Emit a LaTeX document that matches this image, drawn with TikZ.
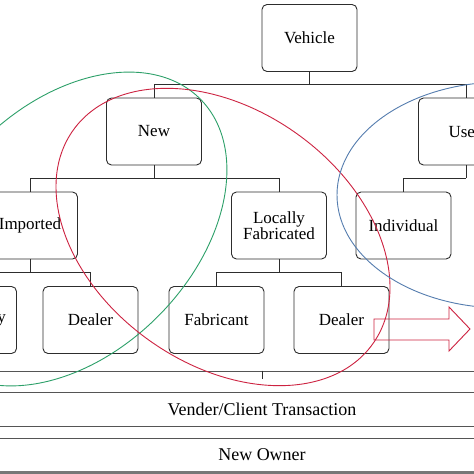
\documentclass[tikz,border=0pt]{standalone}
\usepackage{fontspec}
\setmainfont{Liberation Serif}
\definecolor{boxline}{RGB}{45,45,45}
\definecolor{bandline}{RGB}{85,85,85}
\definecolor{ovgreen}{RGB}{45,160,105}
\definecolor{ovred}{RGB}{205,35,65}
\definecolor{ovblue}{RGB}{85,125,175}
\tikzset{
  box/.style={draw=boxline, line width=0.9pt, rounded corners=5pt,
    minimum width=95pt, minimum height=67pt, inner sep=1pt, align=center,
    font=\fontsize{17}{19}\selectfont},
  band/.style={draw=bandline, line width=0.9pt, minimum width=560pt,
    inner sep=0pt, font=\fontsize{18}{20}\selectfont},
  conn/.style={draw=boxline, line width=0.9pt},
  oval/.style={line width=0.9pt}
}
\begin{document}
\begin{tikzpicture}[x=1pt,y=1pt]
\useasboundingbox (0,0) rectangle (474,474);
\clip (0,0) rectangle (474,474);
\fill[white] (0,0) rectangle (474,474);
% tree boxes
\node[box] (veh) at (309.5,436) {Vehicle};
\node[box] (new) at (154,342.5) {New};
\node[box] (used) at (466,342.5) {Used};
\node[box] (imp) at (30,248.5) {Imported};
\node[box] (lf) at (279,248.5) {Locally\\[-3pt]Fabricated};
\node[box] (ind) at (403.5,248.5) {Individual};
\node[box] (q) at (-31,154) {};
\node[anchor=east, inner sep=0pt, font=\fontsize{17}{19}\selectfont] (qt) at (q.center -| 6,0) {y};
\node[box] (d1) at (90.5,154) {Dealer};
\node[box] (fab) at (216.5,154) {Fabricant};
\node[box] (d2) at (341.5,154) {Dealer};
% connectors
\draw[conn] (veh.south) -- ++(0,-13) coordinate (b1);
\draw[conn] (new.north) |- (b1) -| (used.north);
\draw[conn] (new.south) -- ++(0,-13) coordinate (b2);
\draw[conn] (imp.north) |- (b2) -| (lf.north);
\draw[conn] (used.south) -- ++(0,-13) coordinate (b3);
\draw[conn] (b3) -| (ind.north);
\draw[conn] (imp.south) -- ++(0,-13) coordinate (b4);
\draw[conn] (q.north) |- (b4) -| (d1.north);
\draw[conn] (lf.south) -- ++(0,-13) coordinate (b5);
\draw[conn] (fab.north) |- (b5) -| (d2.north);
% bands
\node[band, minimum height=21pt] (band1) at (262,92.5) {};
\node[band, minimum height=34pt] (band2) at (262,65) {Vender/Client Transaction};
\node[band, minimum height=34pt] (band3) at (262,19) {New Owner};
\draw[conn] (band1.north) -- ++(0,-8);
\draw[line width=3pt, draw=bandline!80] (band3.south west) -- (band3.south east);
% ovals
\draw[oval, ovgreen, rotate around={45:(70,245)}] (70,245) ellipse [x radius=184pt, y radius=124pt];
\draw[oval, ovred, rotate around={-35.5:(223,237)}] (223,237) ellipse [x radius=184pt, y radius=127pt];
\draw[oval, ovblue] (503,279) ellipse [x radius=166pt, y radius=113pt];
% block arrow
\draw[oval, ovred, line join=miter] (374,155) -- (449,155) -- (449,167) -- (470,145) -- (449,123) -- (449,134) -- (374,134) -- cycle;
\end{tikzpicture}
\end{document}
